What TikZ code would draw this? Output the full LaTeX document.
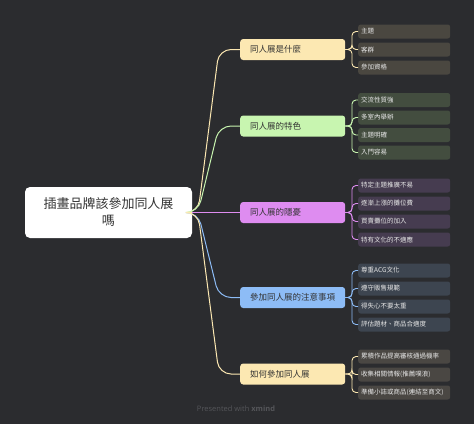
\documentclass[tikz,border=0pt]{standalone}
\usepackage{fontspec}
\setmainfont{Noto Sans CJK TC}
\newfontfamily\latinsans{Open Sans}
\definecolor{bgc}{HTML}{2B2C2F}
\definecolor{yel}{HTML}{FCE8B2}
\definecolor{grn}{HTML}{C8F5B0}
\definecolor{vio}{HTML}{DE8CF0}
\definecolor{blu}{HTML}{8DBCF6}
\definecolor{lyel}{HTML}{4A4740}
\definecolor{lgrn}{HTML}{434D3F}
\definecolor{lvio}{HTML}{463C50}
\definecolor{lblu}{HTML}{3D4550}
\definecolor{lyel2}{HTML}{4A4743}
\definecolor{txtd}{HTML}{333333}
\definecolor{txtl}{HTML}{E6E6E6}
\definecolor{footc}{HTML}{55565A}
\tikzset{
  rootbox/.style={fill=white, rounded corners=5pt, minimum width=167pt, minimum height=51pt, align=center, font=\fontsize{13}{17}\selectfont, text=txtd, inner sep=0pt},
  branchbox/.style={fill=#1, rounded corners=3pt, anchor=west, text width=85pt, align=left, inner xsep=10pt, inner ysep=0pt, minimum height=21pt, font=\fontsize{8.5}{10}\selectfont, text=txtd},
  leafbox/.style={fill=#1, rounded corners=2.5pt, anchor=west, text width=86pt, align=left, inner xsep=3pt, inner ysep=0pt, minimum height=14pt, font=\fontsize{6.5}{8}\selectfont, text=txtl},
  trunk/.style={draw=#1, line width=1pt, rounded corners=12pt},
  twig/.style={draw=#1, line width=0.9pt, rounded corners=4pt},
}
\begin{document}
\begin{tikzpicture}[x=1pt,y=-1pt]
\fill[bgc] (0,0) rectangle (474,424);
\useasboundingbox (0,0) rectangle (474,424);

\node[rootbox] (root) at (108.5,212.5) {插畫品牌該參加同人展\\嗎};
\coordinate (hub) at (198,212.5);
\coordinate (fan) at (219,0);

\node[branchbox=yel] (b1) at (240,49.5) {同人展是什麼};
\node[branchbox=grn] (b2) at (240,126) {同人展的特色};
\node[branchbox=vio] (b3) at (240,212.5) {同人展的隱憂};
\node[branchbox=blu] (b4) at (240,297.5) {參加同人展的注意事項};
\node[branchbox=yel] (b5) at (240,374) {如何參加同人展};

\foreach \b/\c in {b1/yel,b2/grn,b4/blu,b5/yel}{
  \draw[trunk=\c] (root.east) -- (hub) -- (\b.west -| fan) -- (\b.west);
}
\draw[trunk=vio] (root.east) -- (b3.west);

% group 1
\node[leafbox=lyel] (l11) at (358,31.5) {主題};
\node[leafbox=lyel] (l12) at (358,49.5) {客群};
\node[leafbox=lyel] (l13) at (358,67.5) {參加資格};
% group 2
\node[leafbox=lgrn] (l21) at (358,100) {交流性質強};
\node[leafbox=lgrn] (l22) at (358,117.5) {多室內舉辦};
\node[leafbox=lgrn] (l23) at (358,135) {主題明確};
\node[leafbox=lgrn] (l24) at (358,152.5) {入門容易};
% group 3
\node[leafbox=lvio] (l31) at (358,185.5) {特定主題推廣不易};
\node[leafbox=lvio] (l32) at (358,203.5) {逐漸上漲的攤位費};
\node[leafbox=lvio] (l33) at (358,221.5) {買賣攤位的加入};
\node[leafbox=lvio] (l34) at (358,239.5) {特有文化的不適應};
% group 4
\node[leafbox=lblu] (l41) at (358,270.5) {尊重ACG文化};
\node[leafbox=lblu] (l42) at (358,288.5) {遵守販售規範};
\node[leafbox=lblu] (l43) at (358,306.5) {得失心不要太重};
\node[leafbox=lblu] (l44) at (358,324.5) {評估題材、商品合適度};
% group 5
\node[leafbox=lyel2] (l51) at (358,356.5) {累積作品提高審核通過機率};
\node[leafbox=lyel2] (l52) at (358,374.5) {收集相關情報(推薦噗浪)};
\node[leafbox=lyel2] (l53) at (358,392.5) {準備小誌或商品(連結至商文)};

\foreach \l in {l11,l12,l13}{\draw[twig=yel] (b1.east) -- (352,49.5) |- (\l.west);}
\foreach \l in {l21,l22,l23,l24}{\draw[twig=grn] (b2.east) -- (352,126) |- (\l.west);}
\foreach \l in {l31,l32,l33,l34}{\draw[twig=vio] (b3.east) -- (352,212.5) |- (\l.west);}
\foreach \l in {l41,l42,l43,l44}{\draw[twig=blu] (b4.east) -- (352,297.5) |- (\l.west);}
\foreach \l in {l51,l52,l53}{\draw[twig=yel] (b5.east) -- (352,374) |- (\l.west);}

\node[text=footc, font=\latinsans\fontsize{7.5}{9}\selectfont] (foot) at (236,409) {Presented with \textbf{xmind}};
\end{tikzpicture}
\end{document}
